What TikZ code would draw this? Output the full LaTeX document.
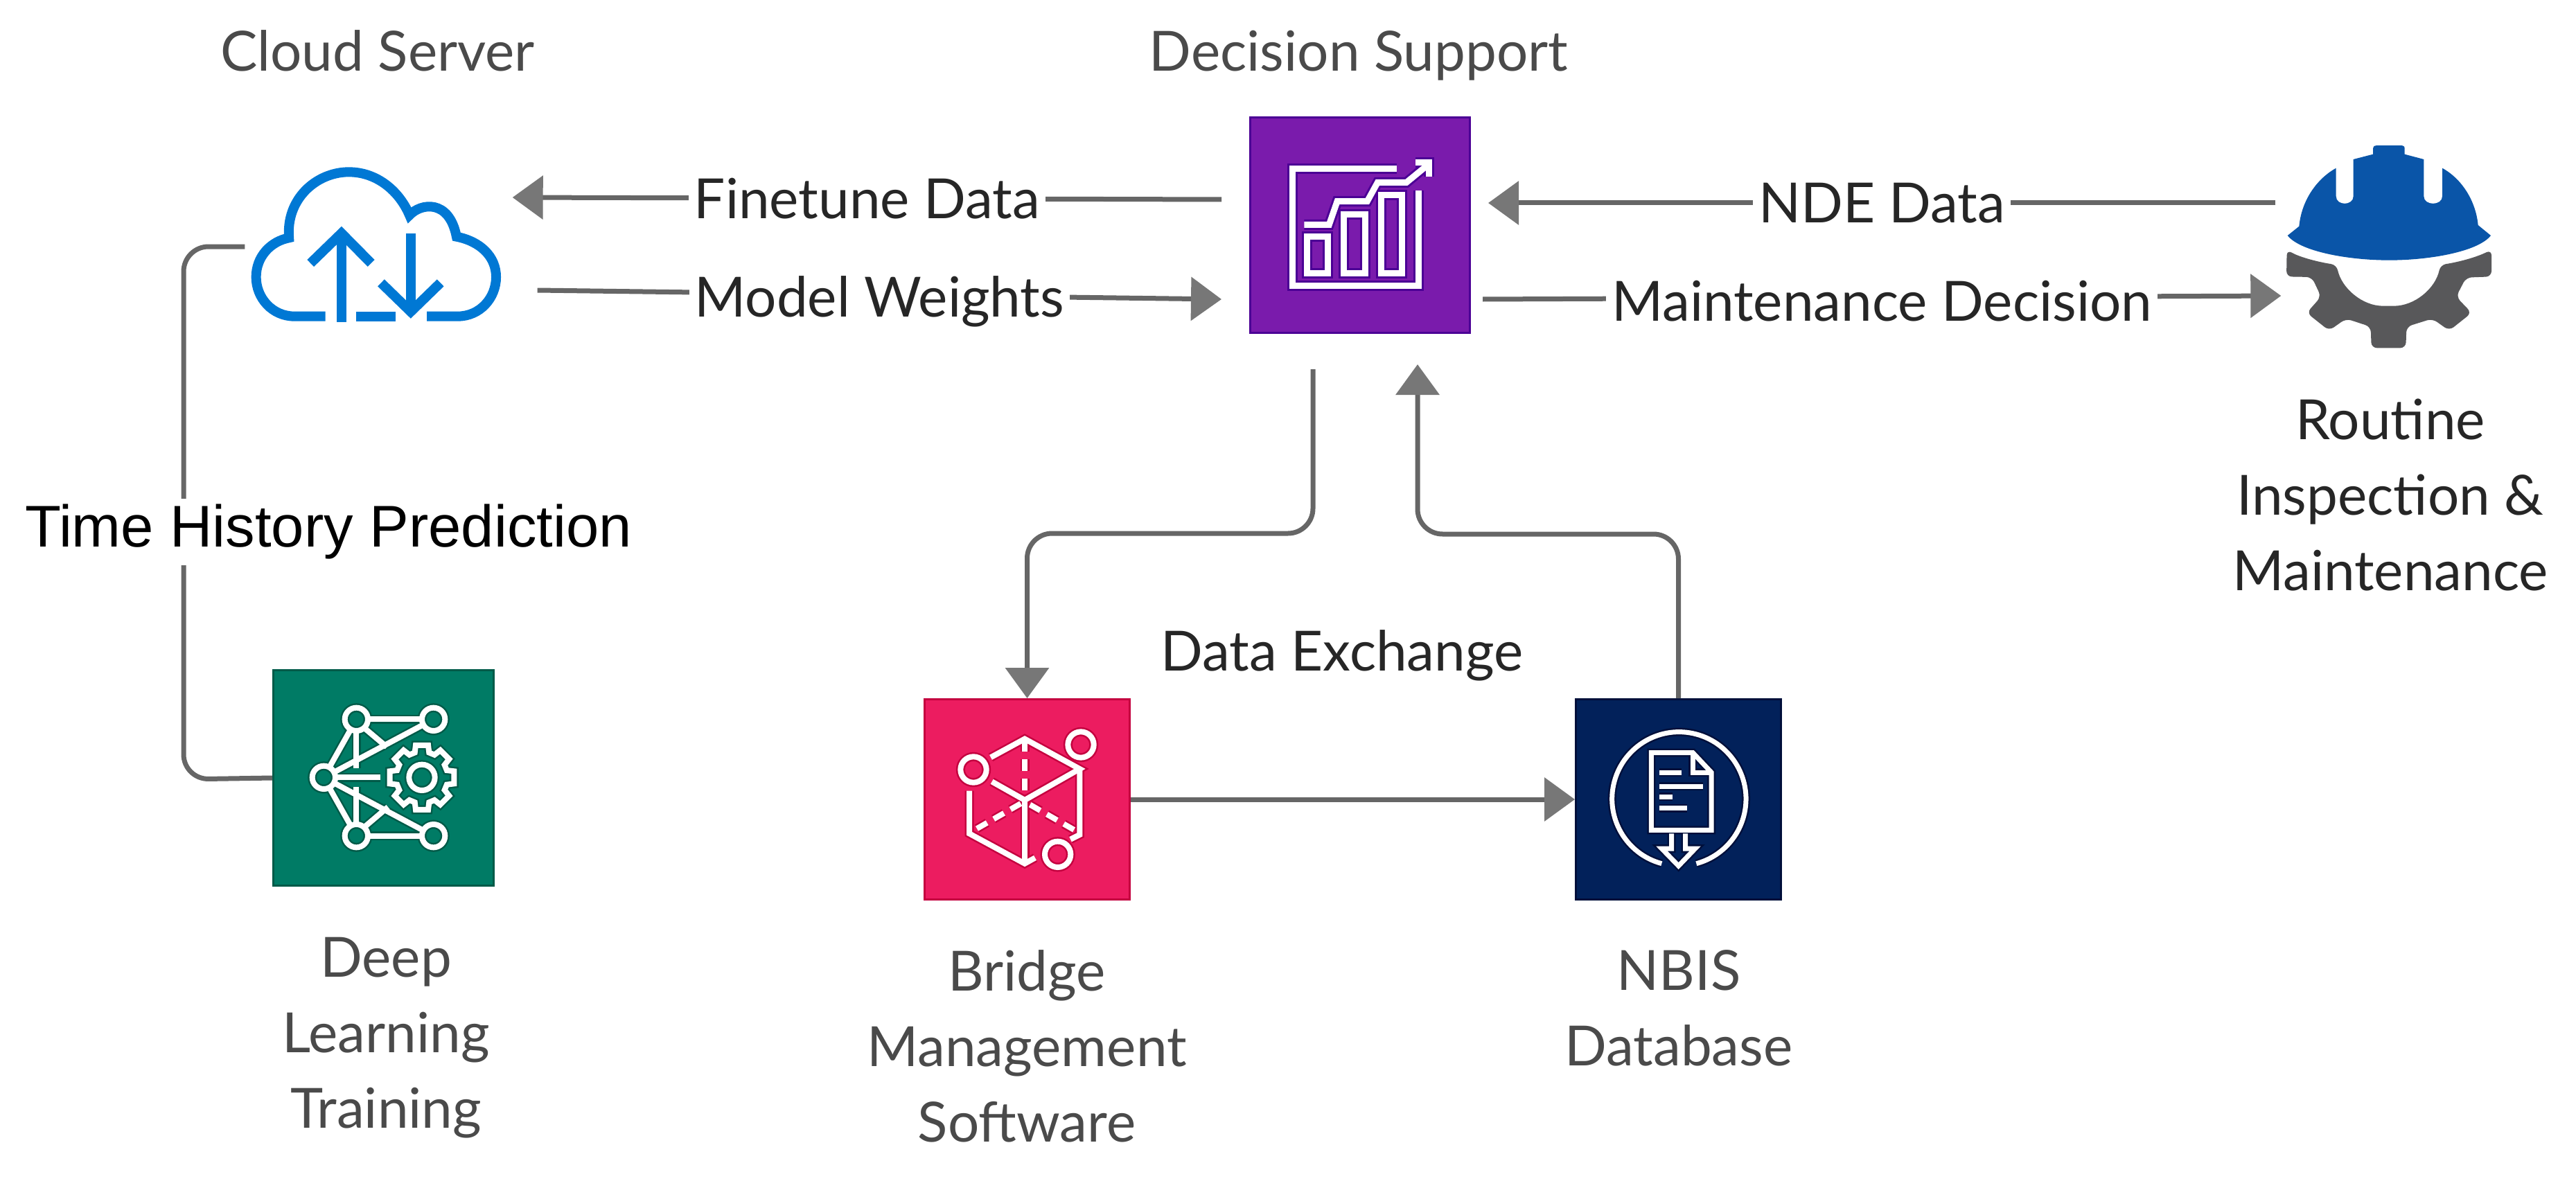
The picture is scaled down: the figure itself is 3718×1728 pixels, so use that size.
\documentclass[tikz,border=0pt]{standalone}
\usepackage{fontspec}
\setmainfont{Lato}[Ligatures=TeX]
\newfontfamily\arialfont{Liberation Sans}
\usetikzlibrary{arrows.meta}
\definecolor{linegray}{HTML}{666666}
\definecolor{tipgray}{HTML}{777777}
\definecolor{titlegray}{HTML}{4A4A4A}
\definecolor{labelink}{HTML}{262626}
\definecolor{cloudblue}{HTML}{0078D4}
\definecolor{purplebox}{HTML}{7A1BAC}
\definecolor{purpledark}{HTML}{4B0095}
\definecolor{greenbox}{HTML}{007B65}
\definecolor{greendark}{HTML}{005A48}
\definecolor{pinkbox}{HTML}{EC1C60}
\definecolor{pinkdark}{HTML}{C4003F}
\definecolor{navybox}{HTML}{02215A}
\definecolor{navydark}{HTML}{000F3A}
\definecolor{hatblue}{HTML}{0A55A8}
\definecolor{geargray}{HTML}{58585A}
\tikzset{
  conn/.style={draw=linegray,line width=7pt,line join=round},
  arr/.style={conn,-{Triangle[length=44pt,width=62pt,color=tipgray]}},
  lbl/.style={fill=white,inner sep=8pt,text=labelink,font=\fontsize{80}{109}\selectfont},
  title/.style={text=titlegray,inner sep=0pt,align=center,font=\fontsize{80}{109}\selectfont},
  iconbox/.style={rectangle,inner sep=0pt,line width=3pt},
  holder/.style={rectangle,inner sep=0pt},
}
\begin{document}
\begin{tikzpicture}[x=1pt,y=1pt,yscale=-1]
\useasboundingbox (0,0) rectangle (3718,1728);
% ---------- nodes ----------
\node[holder,minimum width=361pt,minimum height=225pt] (cloud) at (543,352) {};
\node[iconbox,fill=purplebox,draw=purpledark,minimum width=317pt,minimum height=311pt] (decision) at (1963,325) {};
\node[holder,minimum width=297pt,minimum height=292pt] (worker) at (3448,356) {};
\node[iconbox,fill=greenbox,draw=greendark,minimum width=318pt,minimum height=311pt] (deep) at (553.5,1123) {};
\node[iconbox,fill=pinkbox,draw=pinkdark,minimum width=296pt,minimum height=289pt] (bridge) at (1482.5,1154) {};
\node[iconbox,fill=navybox,draw=navydark,minimum width=296pt,minimum height=289pt] (nbis) at (2422.5,1154) {};
% ---------- cloud icon ----------
\begin{scope}[shift={(250,180)},xscale=1/2.8,yscale=1/3,draw=cloudblue,line width=14pt]
\draw (615,830) -- (490,830) .. controls (400,830) and (335,750) .. (335,660)
  .. controls (335,570) and (395,505) .. (468,490)
  .. controls (455,320) and (580,205) .. (710,205)
  .. controls (825,205) and (915,290) .. (955,392)
  .. controls (1000,340) and (1115,320) .. (1145,485)
  .. controls (1240,505) and (1305,570) .. (1305,660)
  .. controls (1305,750) and (1240,830) .. (1150,830) -- (1025,830);
\draw (738,830) -- (900,830);
\draw (680,855) -- (680,480);
\draw (555,600) -- (680,470) -- (800,600);
\draw (960,470) -- (960,810);
\draw (840,685) -- (960,810) -- (1080,685);
\end{scope}
% ---------- decision icon ----------
\begin{scope}[shift={(1760,140)},scale=1/3]
\foreach \ink/\wd in {purpledark/15pt,white/9pt}{
\draw[draw=\ink,line width=\wd] (768,312) -- (315,312) -- (315,817) -- (862,817) -- (862,405);
\draw[draw=\ink,line width=\wd] (380,605) rectangle (470,765);
\draw[draw=\ink,line width=\wd] (538,508) rectangle (630,765);
\draw[draw=\ink,line width=\wd] (700,425) rectangle (790,765);
\draw[draw=\ink,line width=\wd] (367,553) -- (475,553) -- (510,452) -- (640,452) -- (685,370) -- (810,370) -- (905,292);
\draw[draw=\ink,line width=\wd] (850,283) -- (908,283) -- (908,345);
}
\end{scope}
% ---------- worker icon ----------
\begin{scope}[shift={(3240,200)},scale=1/3]
\fill[hatblue] (185,420) -- (235,380) .. controls (245,270) and (310,175) .. (395,128)
  -- (395,250) .. controls (395,292) and (470,292) .. (470,250)
  -- (470,90) -- (555,68) -- (555,42) .. controls (555,33) and (562,30) .. (570,30)
  -- (680,30) .. controls (688,30) and (692,35) .. (692,45)
  -- (692,68) -- (775,90) -- (775,250) .. controls (775,292) and (855,292) .. (855,250)
  -- (855,128) .. controls (940,175) and (1000,270) .. (1010,375)
  -- (1065,420) .. controls (1010,490) and (800,527) .. (625,527)
  .. controls (450,527) and (240,490) .. (185,420) -- cycle;
\fill[geargray,rounded corners=8pt] (182,482) .. controls (240,515) and (320,535) .. (397,547)
  .. controls (420,650) and (510,725) .. (622,725)
  .. controls (735,725) and (825,650) .. (847,547)
  .. controls (925,535) and (1000,515) .. (1068,482)
  -- (1068,598) -- (958,602) -- (915,685) -- (982,755) -- (885,832) -- (812,780) -- (700,815)
  -- (697,907) -- (548,907) -- (545,815) -- (438,780) -- (365,832) -- (268,755) -- (330,685)
  -- (290,600) -- (180,598) -- cycle;
\end{scope}
% ---------- deep learning icon ----------
\begin{scope}[shift={(370,950)},scale=1/3]
\foreach \ink/\wd in {greendark/13pt,white/8pt}{
\draw[draw=\ink,line width=\wd] (483,265) -- (717,265);
\draw[draw=\ink,line width=\wd] (483,770) -- (717,770);
\draw[draw=\ink,line width=\wd] (720,290) -- (335,495);
\draw[draw=\ink,line width=\wd] (720,745) -- (335,540);
\draw[draw=\ink,line width=\wd] (433,315) -- (433,478);
\draw[draw=\ink,line width=\wd] (433,720) -- (433,558);
\draw[draw=\ink,line width=\wd] (470,305) -- (565,385);
\draw[draw=\ink,line width=\wd] (470,730) -- (570,645);
\draw[draw=\ink,line width=\wd] (408,310) -- (318,470);
\draw[draw=\ink,line width=\wd] (408,725) -- (318,565);
\draw[draw=\ink,line width=\wd] (342,517) -- (537,517);
\foreach \cx/\cy in {433/265,767/265,292/517,433/770,767/770}
  \draw[draw=\ink,line width=\wd] (\cx,\cy) circle (50);
\begin{scope}[shift={(717,517)}]
\draw[draw=\ink,line width=\wd] (0,0) circle (56);
\draw[draw=\ink,line width=\wd] (-16:112)
  \foreach \a in {0,45,...,315}{ -- (\a-16:112) -- (\a-11:142) -- (\a+11:142) -- (\a+16:112) } -- cycle;
\end{scope}
}
\end{scope}
% ---------- bridge icon ----------
\begin{scope}[shift={(1310,990)},scale=1/3]
\foreach \ink/\wd in {pinkdark/13pt,white/8pt}{
\draw[draw=\ink,line width=\wd] (360,310) -- (507,230) -- (745,360) -- (507,495) -- (365,415);
\draw[draw=\ink,line width=\wd] (745,360) -- (745,645) -- (705,665);
\draw[draw=\ink,line width=\wd] (267,455) -- (267,640) -- (507,770) -- (552,745);
\draw[draw=\ink,line width=\wd] (507,495) -- (507,770);
\draw[draw=\ink,line width=\wd,dash pattern=on 17pt off 11pt] (507,235) -- (507,495);
\draw[draw=\ink,line width=\wd,dash pattern=on 17pt off 11pt] (490,510) -- (280,630);
\draw[draw=\ink,line width=\wd,dash pattern=on 17pt off 11pt] (530,515) -- (740,635);
\foreach \cx/\cy in {285/363,750/255,650/730}
  \draw[draw=\ink,line width=\wd] (\cx,\cy) circle (56);
}
\end{scope}
% ---------- nbis icon ----------
\begin{scope}[shift={(2240,990)},scale=1/3]
\foreach \ink/\wd in {navydark/12pt,white/7pt}{
\draw[draw=\ink,line width=\wd] (475,770) arc (105:435:290);
\draw[draw=\ink,line width=\wd] (430,290) -- (610,290) -- (690,375) -- (690,625) -- (430,625) -- cycle;
\draw[draw=\ink,line width=\wd] (610,290) -- (610,375) -- (690,375);
\draw[draw=\ink,line width=\wd] (465,375) -- (560,375);
\draw[draw=\ink,line width=\wd] (465,435) -- (655,435);
\draw[draw=\ink,line width=\wd] (465,480) -- (522,480);
\draw[draw=\ink,line width=\wd] (465,530) -- (585,530);
\draw[draw=\ink,line width=\wd] (518,640) -- (518,705) -- (475,705) -- (548,780) -- (620,705) -- (578,705) -- (578,640);
}
\end{scope}
% ---------- connectors ----------
\draw[arr] ([xshift=-40pt,yshift=-37pt]decision.west) -- node[lbl] (lfine) {Finetune Data} ([xshift=16pt,yshift=-67pt]cloud.east);
\draw[arr] ([xshift=52pt,yshift=67pt]cloud.east) -- node[lbl,yshift=-10pt] (lmodel) {Model Weights} ([xshift=-40pt,yshift=107pt]decision.west);
\draw[arr] ([xshift=-15pt,yshift=-63pt]worker.west) -- node[lbl] (lnde) {NDE Data} ([xshift=25pt,yshift=-32pt]decision.east);
\draw[arr] ([xshift=17pt,yshift=107pt]decision.east) -- node[lbl,yshift=-5pt] (lmaint) {Maintenance Decision} ([xshift=-7pt,yshift=71pt]worker.west);
\draw[conn,rounded corners=36pt] ([xshift=-9pt,yshift=4pt]cloud.west) -| (265,1125) -- (deep.west);
\draw[arr,rounded corners=36pt] ([xshift=-68pt,yshift=51pt]decision.south) -- ++(0,237) -| (bridge.north);
\draw[arr,rounded corners=36pt] (nbis.north) -- ++(0,-237) -| ([xshift=83pt,yshift=44pt]decision.south);
\draw[arr] (bridge.east) -- (nbis.west);
% ---------- labels ----------
\node[fill=white,inner sep=8pt,text=black,font=\arialfont\fontsize{85}{90}\selectfont] (lthp) at (474,768) {Time History Prediction};
\node[title] (tcloud) at (545,73) {Cloud Server};
\node[title] (tdecision) at (1961,80) {Decision Support};
\node[title,text=labelink] (troutine) at (3450,714) {Routine\\Inspection \&\\Maintenance};
\node[title,text=labelink] (tdata) at (1937,946) {Data Exchange};
\node[title] (tdeep) at (557,1498) {Deep\\Learning\\Training};
\node[title] (tbridge) at (1482,1510) {Bridge\\Management\\Software};
\node[title] (tnbis) at (2423,1455) {NBIS\\Database};
\end{tikzpicture}
\end{document}
